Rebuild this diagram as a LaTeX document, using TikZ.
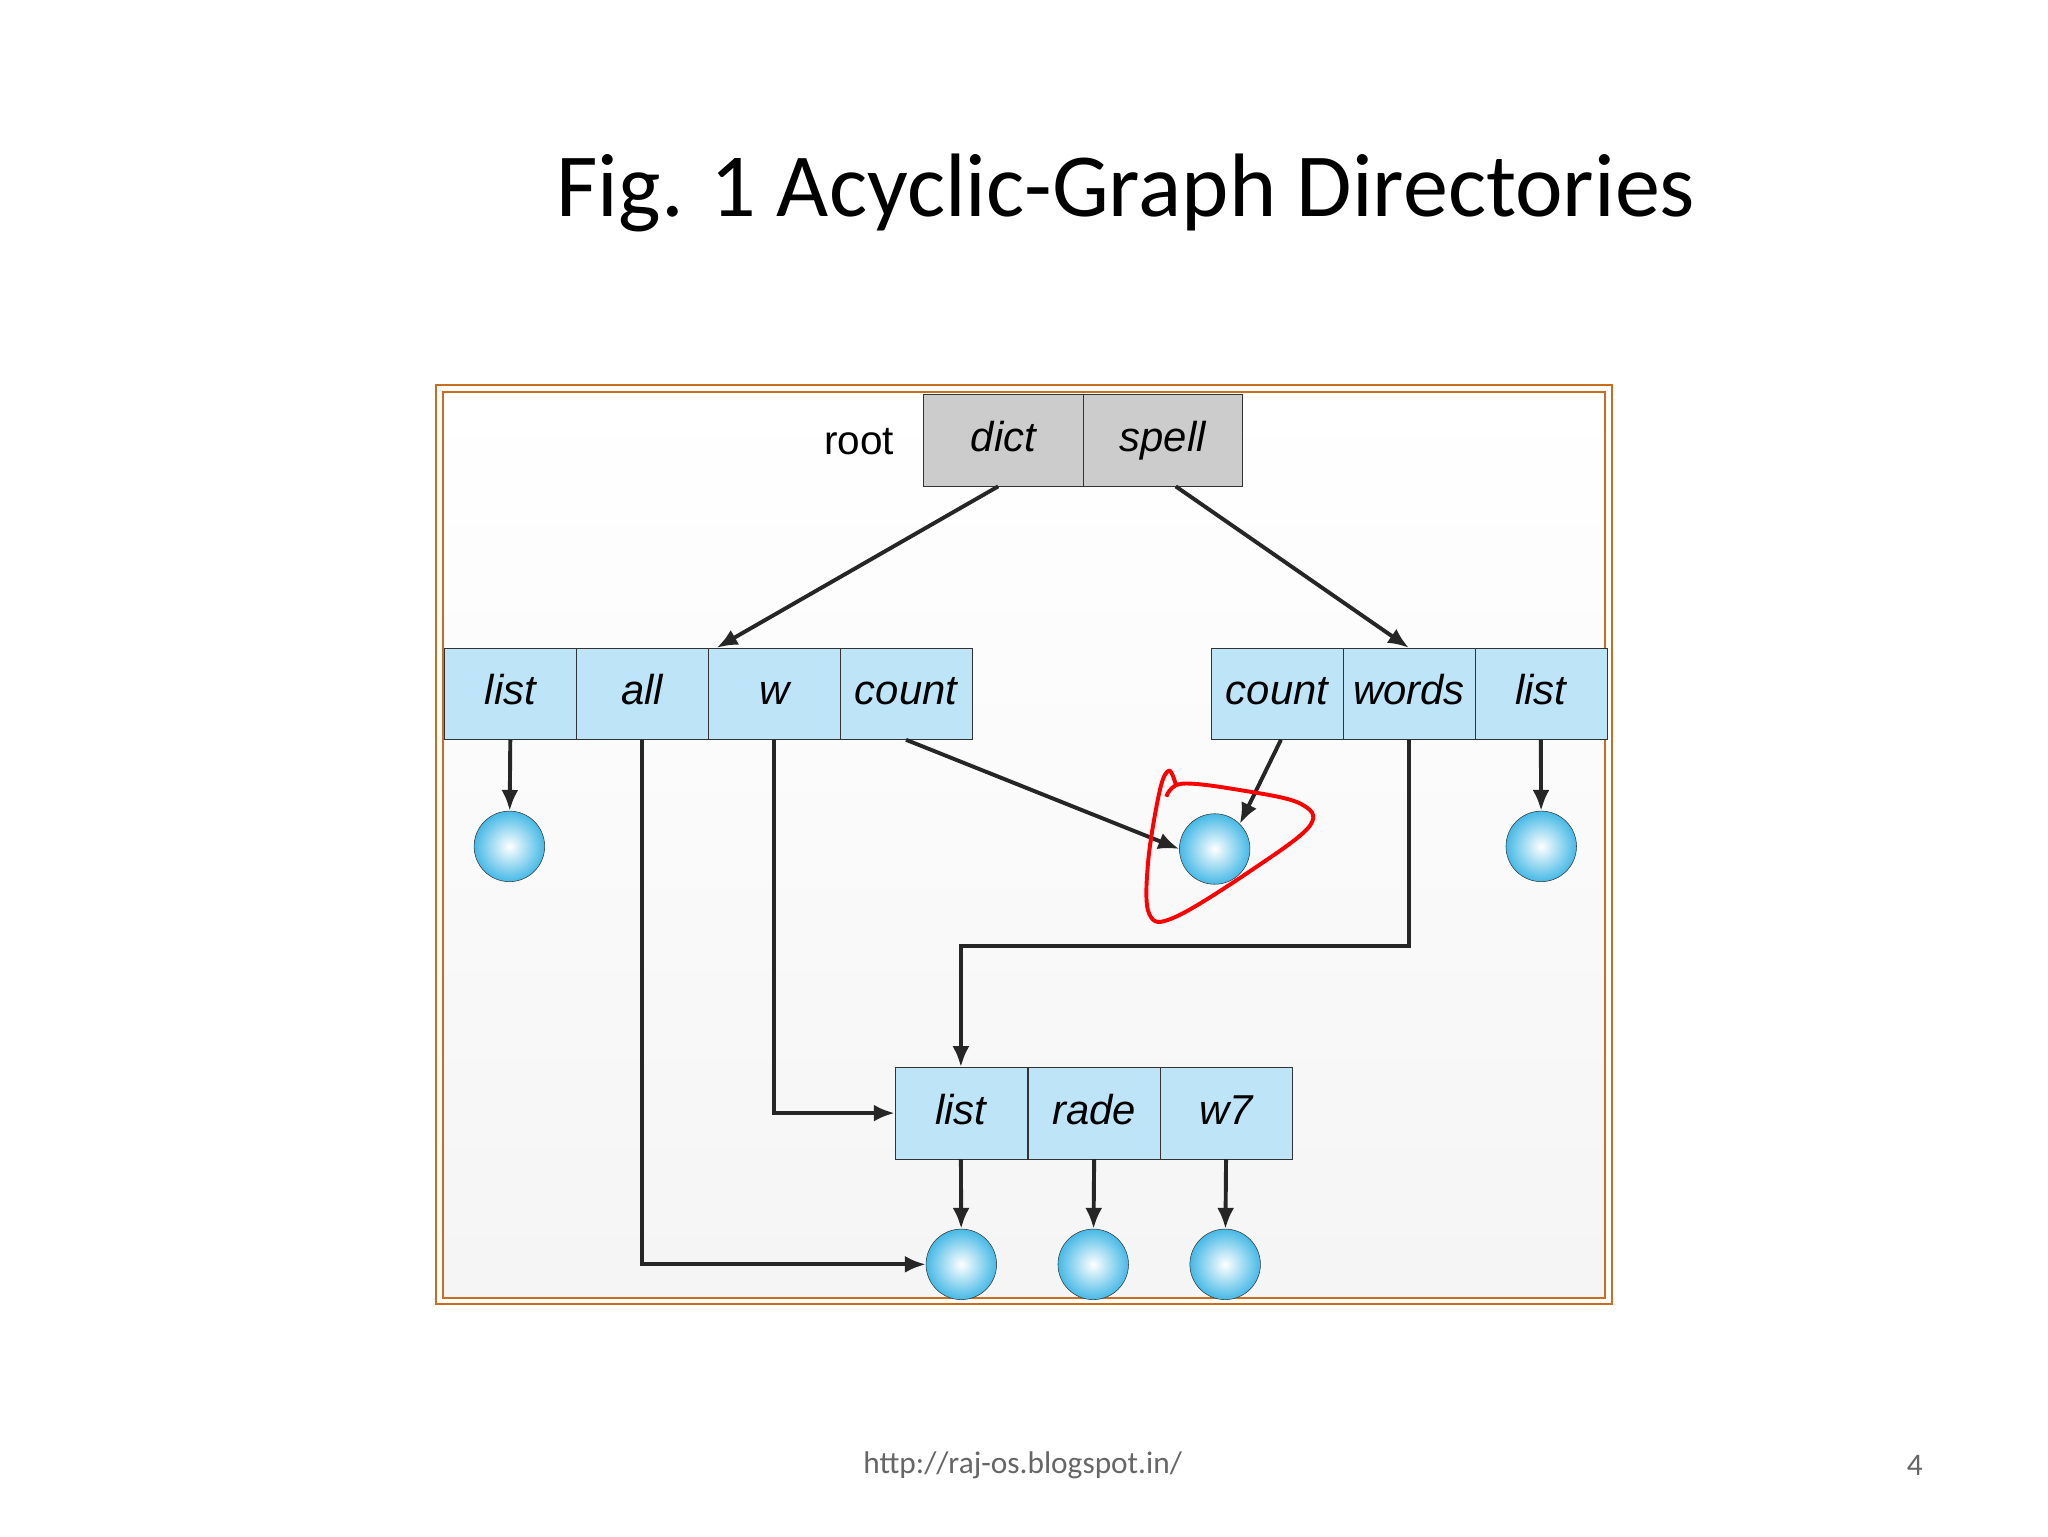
\documentclass[tikz,border=0pt]{standalone}
\usepackage{fontspec}
\setmainfont{Liberation Sans}
\newfontfamily\titlefont{Carlito}
\usetikzlibrary{arrows.meta}
\definecolor{cellblue}{RGB}{190,228,248}
\definecolor{ballblue}{RGB}{70,185,230}
\definecolor{framebrown}{RGB}{200,110,30}
\tikzset{
  cell/.style={draw=black!80,fill=cellblue,minimum width=101pt,minimum height=70pt,inner sep=0pt,
    text height=23pt,text depth=6pt,
    font=\fontsize{32}{32}\selectfont\itshape,anchor=north west},
  rootcell/.style={cell,fill=black!20,minimum width=122pt},
  ball/.style={circle,draw=black!80,minimum size=54pt,inner sep=0pt,
    inner color=white,outer color=ballblue},
  link/.style={draw=black!85,line width=3pt,-{Latex[length=16pt,width=13pt]}},
}
\begin{document}
\begin{tikzpicture}[x=1pt,y=-1pt]
\useasboundingbox (0,0) rectangle (1568,1176);
\node[font=\titlefont\fontsize{69}{69}\selectfont] (title) at (862,148) {Fig. 1 Acyclic-Graph Directories};
% frame
\fill[top color=white,bottom color=black!4] (339,300) rectangle (1229,994);
\draw[framebrown,line width=1.5pt] (334,295) rectangle (1234,998);
\draw[framebrown,line width=1.5pt] (339,300) rectangle (1229,994);
% root
\node[rootcell] (dict) at (707,302) {dict};
\node[rootcell] (spell) at (829,302) {spell};
\node[font=\fontsize{31}{31}\selectfont,anchor=east] (root) at (688,338) {root};
% dict entries
\node[cell] (dlist) at (340,496) {list};
\node[cell] (dall) at (441,496) {all};
\node[cell] (dw) at (542,496) {w};
\node[cell] (dcount) at (643,496) {count};
% spell entries
\node[cell] (scount) at (927,496) {count};
\node[cell] (swords) at (1028,496) {words};
\node[cell] (slist) at (1129,496) {list};
% words entries
\node[cell] (wlist) at (685,817) {list};
\node[cell] (wrade) at (787,817) {rade};
\node[cell] (ww) at (888,817) {w7};
% files
\node[ball] (f1) at (390,648) {};
\node[ball] (f2) at (930,650) {};
\node[ball] (f3) at (1180,648) {};
\node[ball] (f4) at (736,968) {};
\node[ball] (f5) at (837,968) {};
\node[ball] (f6) at (938,968) {};
% links
\draw[link] ([xshift=-4pt]dict.south) -- ([xshift=-44pt]dw.north);
\draw[link] ([xshift=10pt]spell.south) -- (swords.north);
\draw[link] (dlist.south) -- (f1);
\draw[link] (dall.south) |- (f4.west);
\draw[link] (dw.south) |- (wlist.west);
\draw[link] (dcount.south) -- (f2.west);
\draw[link] ([xshift=3pt]scount.south) -- (f2.north east);
\draw[link] (swords.south) -- ++(0,158) -| (wlist.north);
\draw[link] (slist.south) -- (f3);
\draw[link] (wlist.south) -- (f4);
\draw[link] (wrade.south) -- (f5);
\draw[link] (ww.south) -- (f6);
% red mark
\draw[red,line width=3pt,line join=round] plot[smooth,tension=0.6] coordinates
  {(900,600) (895,590) (888,605) (879,660) (880,700) (900,702) (960,665) (1003,632) (995,615) (950,605) (905,600) (893,610)};
% footer
\node[text=black!60,font=\titlefont\fontsize{24}{24}\selectfont] (url) at (783,1122) {http://raj-os.blogspot.in/};
\node[text=black!60,font=\titlefont\fontsize{24}{24}\selectfont] (page) at (1466,1122) {4};
\end{tikzpicture}
\end{document}
